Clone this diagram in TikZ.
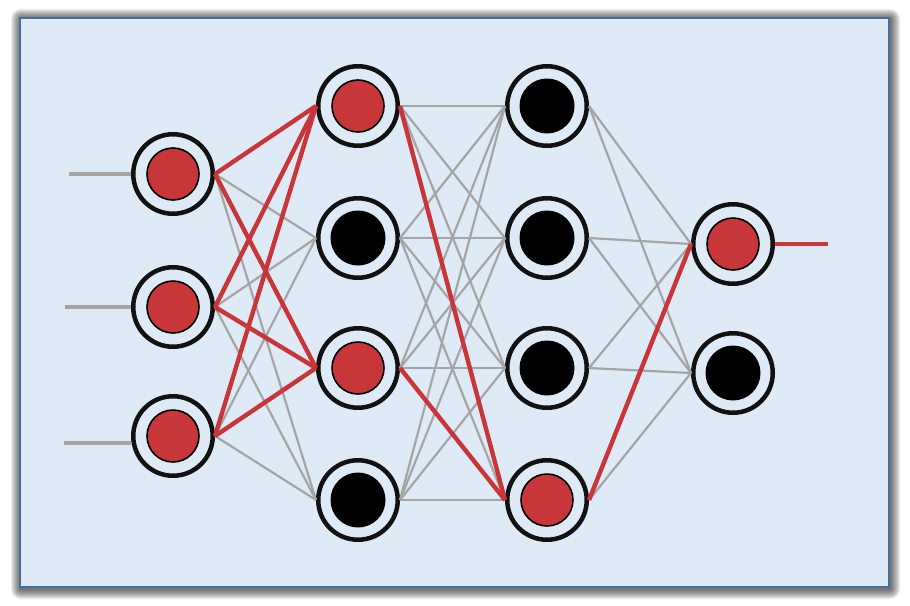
\documentclass[tikz,border=0pt]{standalone}
\usepackage{xcolor}
\usetikzlibrary{positioning,calc}
\definecolor{netred}{HTML}{C9363A}
\definecolor{netgray}{HTML}{A5A5A5}
\definecolor{paneblue}{HTML}{DEEAF6}
\definecolor{paneedge}{HTML}{41719C}

\begin{document}
\begin{tikzpicture}[x=1pt,y=-1pt,
    neuron/.style={circle, draw=black!93, line width=4.5pt, fill=paneblue, minimum size=79.5pt, inner sep=0pt},
    hotcore/.style={circle, draw=black, line width=1.6pt, fill=netred, minimum size=52pt, inner sep=0pt},
    coldcore/.style={circle, fill=black, minimum size=55pt, inner sep=0pt},
    weak/.style={netgray, line width=2.2pt},
    strong/.style={netred, line width=4.4pt},
    feed/.style={netgray, line width=4.4pt}]
            \useasboundingbox (0,0) rectangle (910,605);

            % soft shadow and pane
            \foreach \i in {1,...,10}
                \fill[black, opacity=0.075, rounded corners=\i pt] (21-\i,19-\i) rectangle (890+\i,589+\i);
            \draw[fill=paneblue, draw=paneedge, line width=2pt] (20,18) rectangle (889,587);

            % input layer
            \node[neuron] (a1) at (173,174) {};
            \node[neuron] (a2) at (173,307) {};
            \node[neuron] (a3) at (173,436) {};
            % first hidden layer
            \node[neuron] (b1) at (358,106) {};
            \node[neuron] (b2) at (358,238) {};
            \node[neuron] (b3) at (358,368) {};
            \node[neuron] (b4) at (358,500) {};
            % second hidden layer
            \node[neuron] (c1) at (547,106) {};
            \node[neuron] (c2) at (547,238) {};
            \node[neuron] (c3) at (547,368) {};
            \node[neuron] (c4) at (547,500) {};
            % output layer
            \node[neuron] (d1) at (733,244) {};
            \node[neuron] (d2) at (733,373) {};

            % cores
            \foreach \n in {a1,a2,a3,b1,b3,c4,d1}
                \node[hotcore] at (\n) {};
            \foreach \n in {b2,b4,c1,c2,c3,d2}
                \node[coldcore] at (\n) {};

            % inputs and output
            \coordinate (in1) at (69,174);
            \coordinate (in2) at (65,307);
            \coordinate (in3) at (64,443);
            \coordinate (out) at (828,244);
            \draw[feed] (in1) -- (in1 -| a1.west);
            \draw[feed] (in2) -- (in2 -| a2.west);
            \draw[feed] (in3) -- (in3 -| a3.west);
            \draw[strong] (d1.east) -- (out);

            % weak links
            \foreach \s in {a1,a2,a3}
                \foreach \t in {b2,b4}
                    \draw[weak] (\s.east) -- (\t.west);
            \foreach \s in {b1,b2,b3,b4}
                \foreach \t in {c1,c2,c3,c4}
                    \draw[weak] (\s.east) -- (\t.west);
            \foreach \s in {c1,c2,c3}
                \foreach \t in {d1,d2}
                    \draw[weak] (\s.east) -- (\t.west);
            \draw[weak] (c4.east) -- (d2.west);

            % active path
            \foreach \s in {a1,a2,a3}
                \foreach \t in {b1,b3}
                    \draw[strong] (\s.east) -- (\t.west);
            \draw[strong] (b1.east) -- (c4.west);
            \draw[strong] (b3.east) -- (c4.west);
            \draw[strong] (c4.east) -- (d1.west);
\end{tikzpicture}
\end{document}
